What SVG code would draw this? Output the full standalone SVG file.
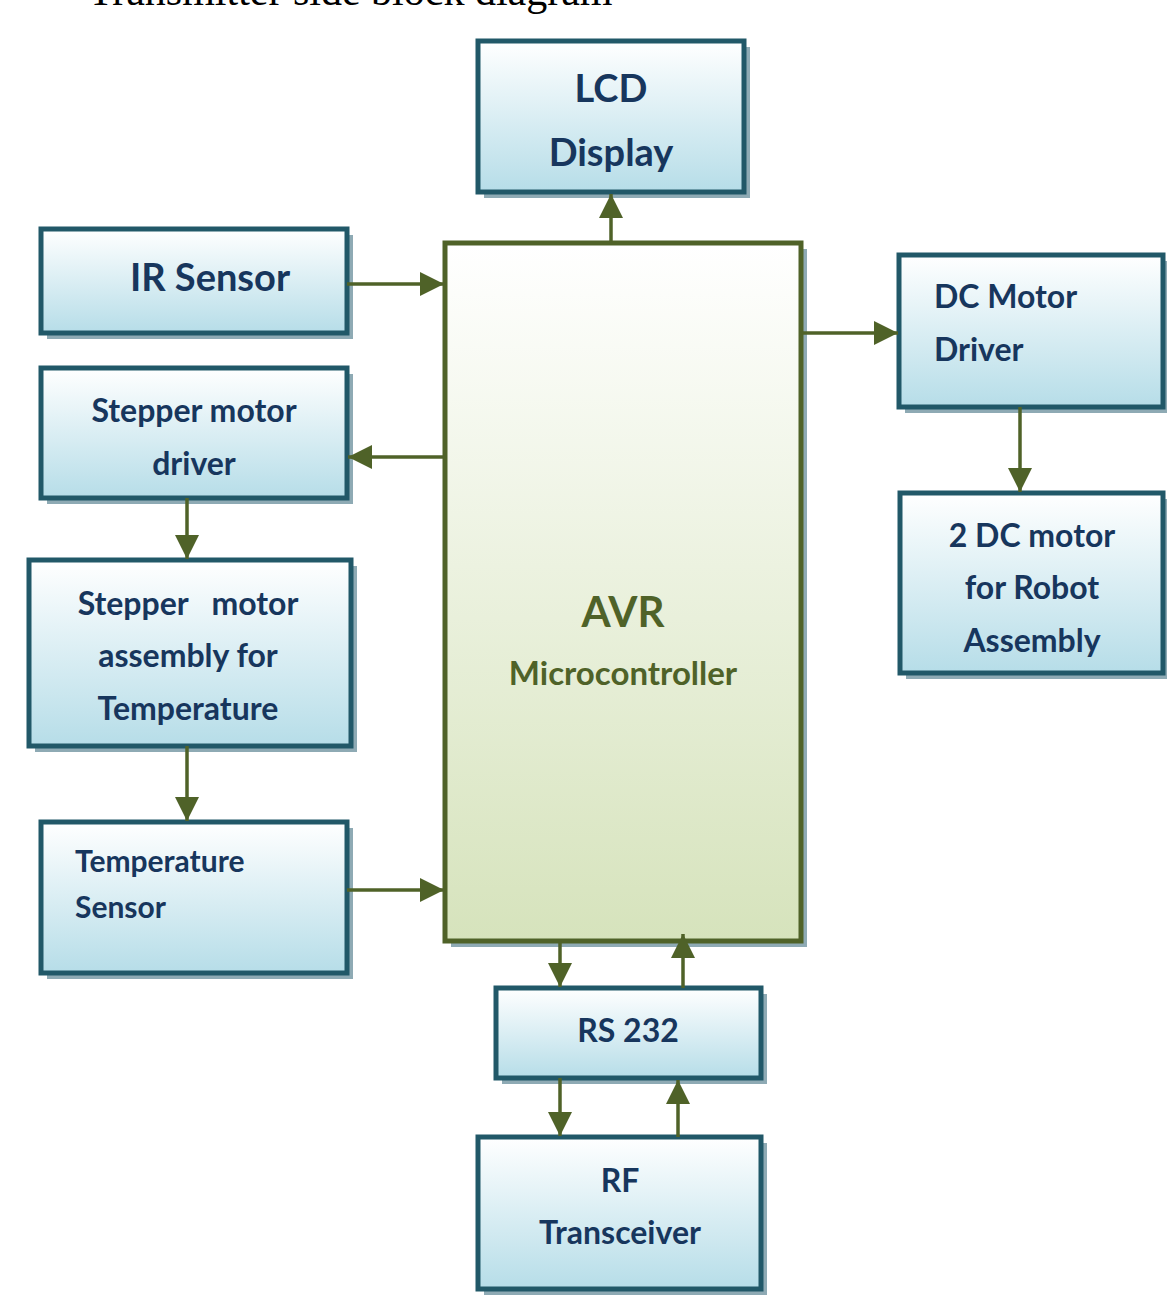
<svg xmlns="http://www.w3.org/2000/svg" width="1167" height="1309" viewBox="0 0 1167 1309">
<defs>
<linearGradient id="gb" x1="0" y1="0" x2="0" y2="1"><stop offset="0" stop-color="#ffffff"/><stop offset="1" stop-color="#b6dde8"/></linearGradient>
<linearGradient id="gg" x1="0" y1="0" x2="0" y2="1"><stop offset="0" stop-color="#ffffff"/><stop offset="1" stop-color="#d6e3bc"/></linearGradient>
<marker id="a" viewBox="0 0 10 10" refX="10" refY="5" markerWidth="24" markerHeight="24" markerUnits="userSpaceOnUse" orient="auto"><path d="M0,0 L10,5 L0,10 z" fill="#4f6228"/></marker>
</defs>
<style>
.sh{fill:#8eaab4}
.b{fill:url(#gb);stroke:#215868;stroke-width:5}
.t{font-family:Lato,"Open Sans",sans-serif;font-weight:bold;fill:#17365d;text-anchor:middle}
.s{text-anchor:start}
.c{stroke:#4f6228;stroke-width:3.5;fill:none;marker-end:url(#a)}
</style>
<rect width="1167" height="1309" fill="#fff"/>
<text x="88" y="5" font-family="Liberation Serif,serif" font-size="42" fill="#000">Transmitter side block diagram</text>
<g id="lcd"><rect class="sh" x="484" y="47" width="266" height="151"/><rect class="b" x="478" y="41" width="266" height="151"/><text class="t" x="611" y="102" font-size="38">LCD</text><text class="t" x="611" y="166" font-size="38">Display</text></g>
<g id="ir"><rect class="sh" x="47" y="235" width="306" height="104"/><rect class="b" x="41" y="229" width="306" height="104"/><text class="t" x="210" y="291" font-size="38">IR Sensor</text></g>
<g id="sdrv"><rect class="sh" x="47" y="374" width="306" height="130"/><rect class="b" x="41" y="368" width="306" height="130"/><text class="t" x="194" y="422" font-size="32">Stepper motor</text><text class="t" x="194" y="475" font-size="32">driver</text></g>
<g id="sasm"><rect class="sh" x="35" y="566" width="322" height="186"/><rect class="b" x="29" y="560" width="322" height="186"/><text class="t" x="188" y="615" font-size="32" xml:space="preserve">Stepper   motor</text><text class="t" x="188" y="667" font-size="32">assembly for</text><text class="t" x="188" y="720" font-size="32">Temperature</text></g>
<g id="temp"><rect class="sh" x="47" y="828" width="306" height="151"/><rect class="b" x="41" y="822" width="306" height="151"/><text class="t s" x="75" y="872" font-size="30">Temperature</text><text class="t s" x="75" y="918" font-size="30">Sensor</text></g>
<g id="avr"><rect class="sh" x="451" y="249" width="356" height="698"/><rect x="445" y="243" width="356" height="698" fill="url(#gg)" stroke="#4f6228" stroke-width="5"/><text x="623" y="627" font-family="Lato,'Open Sans',sans-serif" font-weight="bold" font-size="42" fill="#4f6228" text-anchor="middle">AVR</text><text x="623" y="685" font-family="Lato,'Open Sans',sans-serif" font-weight="bold" font-size="33" fill="#4f6228" text-anchor="middle">Microcontroller</text></g>
<g id="dcd"><rect class="sh" x="905" y="261" width="264" height="152"/><rect class="b" x="899" y="255" width="264" height="152"/><text class="t s" x="934" y="308" font-size="32">DC Motor</text><text class="t s" x="934" y="361" font-size="32">Driver</text></g>
<g id="dcm"><rect class="sh" x="906" y="499" width="263" height="180"/><rect class="b" x="900" y="493" width="263" height="180"/><text class="t" x="1032" y="547" font-size="32">2 DC motor</text><text class="t" x="1032" y="599" font-size="32">for Robot</text><text class="t" x="1032" y="652" font-size="32">Assembly</text></g>
<g id="rs"><rect class="sh" x="502" y="994" width="265" height="90"/><rect class="b" x="496" y="988" width="265" height="90"/><text class="t" x="628" y="1042" font-size="32">RS 232</text></g>
<g id="rf"><rect class="sh" x="484" y="1143" width="283" height="152"/><rect class="b" x="478" y="1137" width="283" height="152"/><text class="t" x="620" y="1192" font-size="32">RF</text><text class="t" x="620" y="1244" font-size="32">Transceiver</text></g>
<g id="connectors">
<line class="c" x1="611" y1="243" x2="611" y2="194"/>
<line class="c" x1="347" y1="284" x2="444" y2="284"/>
<line class="c" x1="445" y1="457" x2="348" y2="457"/>
<line class="c" x1="187" y1="498" x2="187" y2="559"/>
<line class="c" x1="187" y1="746" x2="187" y2="821"/>
<line class="c" x1="347" y1="890" x2="444" y2="890"/>
<line class="c" x1="801" y1="333" x2="898" y2="333"/>
<line class="c" x1="1020" y1="407" x2="1020" y2="492"/>
<line class="c" x1="560" y1="941" x2="560" y2="987"/>
<line class="c" x1="683" y1="988" x2="683" y2="934"/>
<line class="c" x1="560" y1="1078" x2="560" y2="1136"/>
<line class="c" x1="678" y1="1137" x2="678" y2="1080"/>
</g>
</svg>
